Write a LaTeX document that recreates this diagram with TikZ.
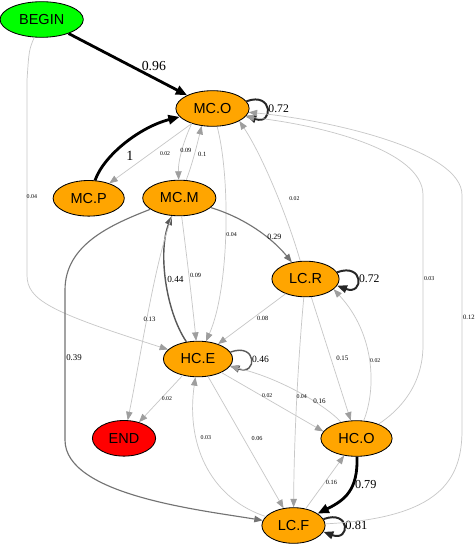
\documentclass[tikz,border=0pt]{standalone}
\usepackage{fontspec}
\setmainfont{Liberation Serif}
\setsansfont{Liberation Sans}
\usetikzlibrary{shapes.geometric,arrows.meta}
\definecolor{stgreen}{RGB}{0,255,0}
\definecolor{storange}{RGB}{255,165,0}
\definecolor{stred}{RGB}{255,0,0}

\begin{document}
\begin{tikzpicture}[x=0.025cm, y=-0.025cm,
  state/.style={draw, ellipse, line width=0.6pt, fill=storange, inner sep=0pt,
    minimum width=#1, minimum height=0.89cm, font=\sffamily\fontsize{10.3}{12}\selectfont},
  state/.default=1.75cm,
  lbl/.style={font=\fontsize{#1}{#1}\selectfont, inner sep=0.5pt},
  lbl/.default=4.1,
  bk/.style={line width=2pt, -{Triangle[length=8pt, width=6.5pt]}},
  dk/.style={line width=1.4pt, draw=black!85, -{Triangle[length=7pt, width=5.5pt]}},
  md/.style={line width=1pt, draw=black!65, -{Triangle[length=6.5pt, width=5pt]}},
  gy/.style={line width=0.8pt, draw=black!55, -{Triangle[length=6pt, width=4.6pt]}},
  lt/.style={line width=0.5pt, draw=black!22, -{Triangle[length=6pt, width=4.6pt, color=black!38]}}]
\path[use as bounding box, fill=white] (0,0) rectangle (474,544);
\node[state=2.08cm, fill=stgreen] (begin) at (41.7,19.5) {BEGIN};
\node[state=1.83cm] (mco) at (212.5,108.5) {MC.O};
\node[state=1.78cm] (mcp) at (88.7,198.3) {MC.P};
\node[state=1.83cm] (mcm) at (179.3,198) {MC.M};
\node[state=1.68cm] (lcr) at (305.5,279) {LC.R};
\node[state=1.73cm] (hce) at (198,359) {HC.E};
\node[state=1.58cm, fill=stred] (finish) at (124,438.3) {END};
\node[state=1.78cm] (hco) at (356.5,438.5) {HC.O};
\node[state=1.58cm] (lcf) at (293.5,525.5) {LC.F};

\draw[bk] (begin) -- (mco) node[lbl=9.8, pos=0.72, above=4pt] {0.96};
\draw[lt] (begin) .. controls (29,50) .. (27,80) -- (27,275) node[lbl=4.2, pos=0.6, right=-1pt] {0.04}
  .. controls (27,300) and (50,312) .. (hce);
\draw[dk] (mco.12) .. controls +(27,-10) and +(27,10) .. (mco.-12) node[lbl=8.3, pos=0.5, right] {0.72};
\draw[dk] (lcr.12) .. controls +(27,-10) and +(27,10) .. (lcr.-12) node[lbl=8.3, pos=0.5, right] {0.72};
\draw[md] (hce.12) .. controls +(27,-10) and +(27,10) .. (hce.-12) node[lbl=6.8, pos=0.5, right] {0.46};
\draw[dk] (lcf.12) .. controls +(27,-10) and +(27,10) .. (lcf.-12) node[lbl=8.9, pos=0.5, right] {0.81};
\draw[bk] (mcp) .. controls (104,155) and (140,127) .. (mco) node[lbl=10, pos=0.45, below right=2pt] {1};
\draw[lt] (mco) -- (mcp) node[lbl, midway, right=6pt] {0.02};
\draw[lt] (mco.216) .. controls (184,140) and (178,160) .. (mcm) node[lbl=4.5, pos=0.5, right=-2pt] {0.09};
\draw[lt] (mcm) .. controls (192,165) and (197,145) .. (mco.238) node[lbl=4.6, pos=0.5, right=2pt] {0.1};
\draw[lt] (mco) .. controls (231,180) and (229,290) .. (hce) node[lbl=4.2, pos=0.5, right] {0.04};
\draw[lt] (lcr) .. controls (287,215) and (262,155) .. (mco.-25) node[lbl, pos=0.42, right=7pt] {0.02};
\draw[lt] (hco) .. controls (400,410) and (423,385) .. (423,345) -- (423,195) node[lbl=4.2, pos=0.44, right] {0.03}
  .. controls (423,150) and (320,125) .. (mco.-14);
\draw[lt] (lcf) .. controls (440,518) and (462,480) .. (462,430) -- (462,195) node[lbl=4.7, pos=0.48, right] {0.12}
  .. controls (462,150) and (330,120) .. (mco.-6);
\draw[gy] (mcm) .. controls (245,218) and (272,238) .. (lcr) node[lbl=5.7, pos=0.62, right] {0.29};
\draw[gy] (mcm) .. controls (110,225) and (65,245) .. (65,290) -- (65,440) node[lbl=6.3, pos=0.45, right] {0.39}
  .. controls (65,495) and (200,510) .. (lcf);
\draw[md] (hce) .. controls (165,310) and (158,250) .. (mcm) node[lbl=6.6, pos=0.5, right] {0.44};
\draw[lt] (mcm) .. controls (186,250) and (192,300) .. (hce) node[lbl=4.5, pos=0.5, right] {0.09};
\draw[lt] (mcm) .. controls (155,260) and (140,360) .. (finish) node[lbl=4.8, pos=0.53, right=-3pt] {0.13};
\draw[lt] (lcr) -- (hce) node[lbl=4.5, midway, right=3pt] {0.08};
\draw[lt] (hce) -- (finish) node[lbl, midway, right] {0.02};
\draw[lt] (hce) -- (hco.168) node[lbl, pos=0.45, above] {0.02};
\draw[lt] (hco) .. controls (325,405) and (280,378) .. (hce) node[lbl=5, pos=0.3, above] {0.16};
\draw[lt] (hce) -- (lcf) node[lbl=4.4, pos=0.47, right=5pt] {0.06};
\draw[lt] (lcf) .. controls (215,500) and (185,450) .. (hce) node[lbl=4.2, pos=0.69, right=2pt] {0.03};
\draw[lt] (lcr) .. controls (298,360) and (294,440) .. (lcf) node[lbl=4.2, pos=0.48, right=-1pt] {0.04};
\draw[lt] (lcr) -- (hco) node[lbl=4.9, midway, right=3pt] {0.15};
\draw[lt] (hco) .. controls (376,390) and (376,335) .. (lcr.-20) node[lbl, pos=0.5, right] {0.02};
\draw[bk] (hco) .. controls (358,490) and (345,500) .. (lcf) node[lbl=8.7, pos=0.35, right] {0.79};
\draw[lt] (lcf) -- (hco) node[lbl=4.5, midway, right] {0.16};
\end{tikzpicture}
\end{document}
